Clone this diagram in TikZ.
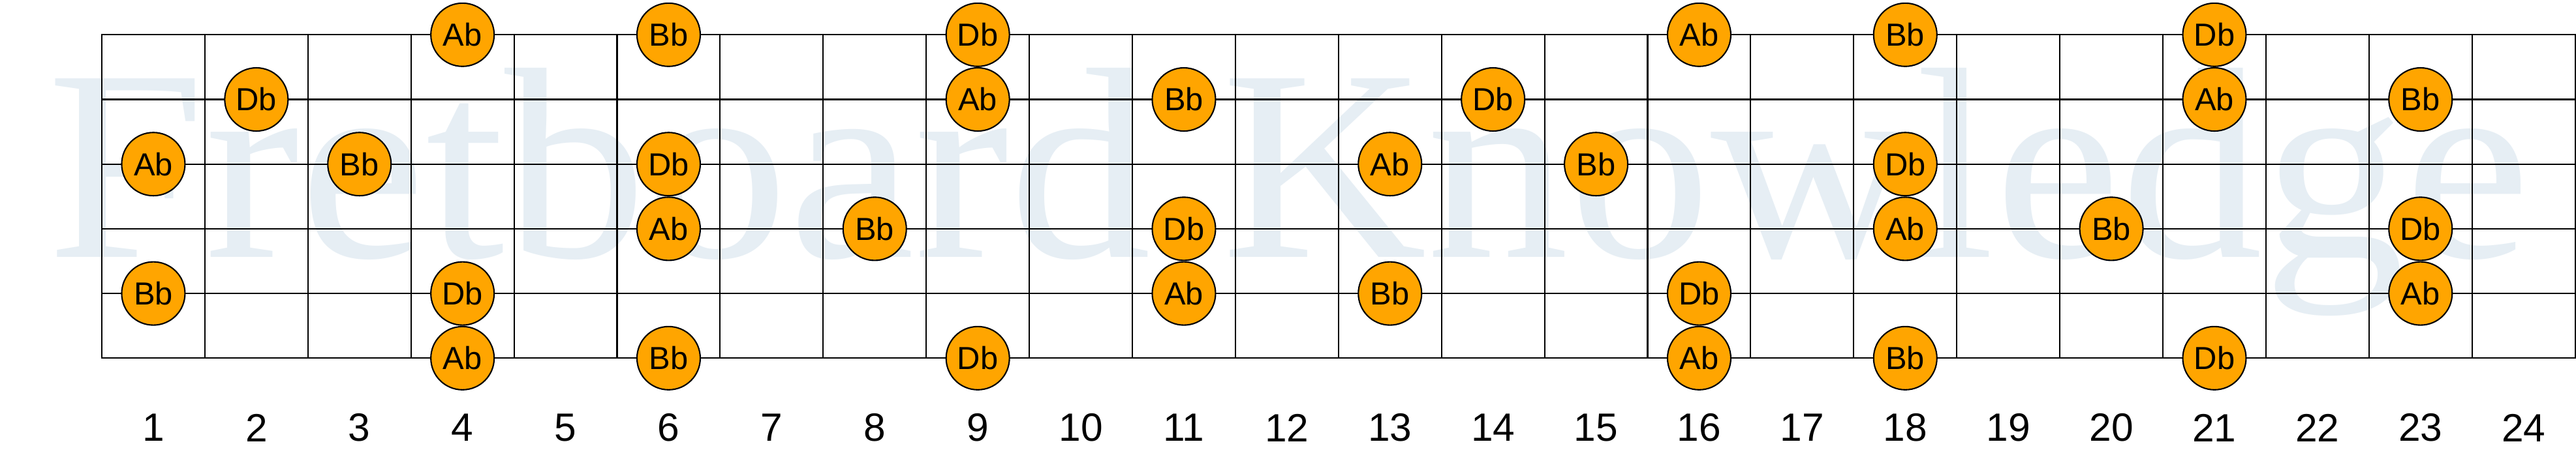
\documentclass[tikz,border=0pt]{standalone}
\usepackage{fontspec}
\setmainfont{Liberation Sans}
\newfontfamily\markfont{Liberation Serif}
\definecolor{note_orange}{HTML}{FFA500}
\definecolor{mark_blue}{HTML}{E6EEF4}

\begin{document}
\begin{tikzpicture}
    \tikzstyle{note_style}=[circle, draw, fill=note_orange, line width=0.6pt, minimum size=0.97cm, inner sep=0pt, font=\fontsize{13.9}{14}\selectfont]
    \tikzstyle{board_line}=[line width=0.6pt]
    \tikzstyle{fret_num}=[inner sep=0pt, font=\fontsize{17.2}{18}\selectfont]

    \useasboundingbox (0,0) rectangle (39.47,-7.03);

    % --- watermark ---
    \node[anchor=base west, inner sep=0pt, text=mark_blue, font=\markfont\fontsize{119}{120}\selectfont] (mark) at (0.72,-3.945) {\scalebox{1.04}[1]{Fretboard Knowledge}};

    \begin{scope}[shift={(1.56,-0.533)}, x=1.579cm, y=0.992cm]
      % --- board ---
      \draw[board_line] (0,0) rectangle (24,-5);
      \foreach \f in {1,...,23} \draw[board_line] (\f,0) -- (\f,-5);
      \foreach \s in {1,...,4} \draw[board_line] (0,-\s) -- (24,-\s);

      % --- string 1 ---
      \node[note_style] (s1f4) at (3.5,0) {Ab};
      \node[note_style] (s1f6) at (5.5,0) {Bb};
      \node[note_style] (s1f9) at (8.5,0) {Db};
      \node[note_style] (s1f16) at (15.5,0) {Ab};
      \node[note_style] (s1f18) at (17.5,0) {Bb};
      \node[note_style] (s1f21) at (20.5,0) {Db};

      % --- string 2 ---
      \node[note_style] (s2f2) at (1.5,-1) {Db};
      \node[note_style] (s2f9) at (8.5,-1) {Ab};
      \node[note_style] (s2f11) at (10.5,-1) {Bb};
      \node[note_style] (s2f14) at (13.5,-1) {Db};
      \node[note_style] (s2f21) at (20.5,-1) {Ab};
      \node[note_style] (s2f23) at (22.5,-1) {Bb};

      % --- string 3 ---
      \node[note_style] (s3f1) at (0.5,-2) {Ab};
      \node[note_style] (s3f3) at (2.5,-2) {Bb};
      \node[note_style] (s3f6) at (5.5,-2) {Db};
      \node[note_style] (s3f13) at (12.5,-2) {Ab};
      \node[note_style] (s3f15) at (14.5,-2) {Bb};
      \node[note_style] (s3f18) at (17.5,-2) {Db};

      % --- string 4 ---
      \node[note_style] (s4f6) at (5.5,-3) {Ab};
      \node[note_style] (s4f8) at (7.5,-3) {Bb};
      \node[note_style] (s4f11) at (10.5,-3) {Db};
      \node[note_style] (s4f18) at (17.5,-3) {Ab};
      \node[note_style] (s4f20) at (19.5,-3) {Bb};
      \node[note_style] (s4f23) at (22.5,-3) {Db};

      % --- string 5 ---
      \node[note_style] (s5f1) at (0.5,-4) {Bb};
      \node[note_style] (s5f4) at (3.5,-4) {Db};
      \node[note_style] (s5f11) at (10.5,-4) {Ab};
      \node[note_style] (s5f13) at (12.5,-4) {Bb};
      \node[note_style] (s5f16) at (15.5,-4) {Db};
      \node[note_style] (s5f23) at (22.5,-4) {Ab};

      % --- string 6 ---
      \node[note_style] (s6f4) at (3.5,-5) {Ab};
      \node[note_style] (s6f6) at (5.5,-5) {Bb};
      \node[note_style] (s6f9) at (8.5,-5) {Db};
      \node[note_style] (s6f16) at (15.5,-5) {Ab};
      \node[note_style] (s6f18) at (17.5,-5) {Bb};
      \node[note_style] (s6f21) at (20.5,-5) {Db};

      % --- fret numbers ---
      \node[fret_num] (num1) at (0.5,-6.076) {1};
      \node[fret_num] (num2) at (1.5,-6.076) {2};
      \node[fret_num] (num3) at (2.5,-6.076) {3};
      \node[fret_num] (num4) at (3.5,-6.076) {4};
      \node[fret_num] (num5) at (4.5,-6.076) {5};
      \node[fret_num] (num6) at (5.5,-6.076) {6};
      \node[fret_num] (num7) at (6.5,-6.076) {7};
      \node[fret_num] (num8) at (7.5,-6.076) {8};
      \node[fret_num] (num9) at (8.5,-6.076) {9};
      \node[fret_num] (num10) at (9.5,-6.076) {10};
      \node[fret_num] (num11) at (10.5,-6.076) {11};
      \node[fret_num] (num12) at (11.5,-6.076) {12};
      \node[fret_num] (num13) at (12.5,-6.076) {13};
      \node[fret_num] (num14) at (13.5,-6.076) {14};
      \node[fret_num] (num15) at (14.5,-6.076) {15};
      \node[fret_num] (num16) at (15.5,-6.076) {16};
      \node[fret_num] (num17) at (16.5,-6.076) {17};
      \node[fret_num] (num18) at (17.5,-6.076) {18};
      \node[fret_num] (num19) at (18.5,-6.076) {19};
      \node[fret_num] (num20) at (19.5,-6.076) {20};
      \node[fret_num] (num21) at (20.5,-6.076) {21};
      \node[fret_num] (num22) at (21.5,-6.076) {22};
      \node[fret_num] (num23) at (22.5,-6.076) {23};
      \node[fret_num] (num24) at (23.5,-6.076) {24};
    \end{scope}
\end{tikzpicture}
\end{document}
